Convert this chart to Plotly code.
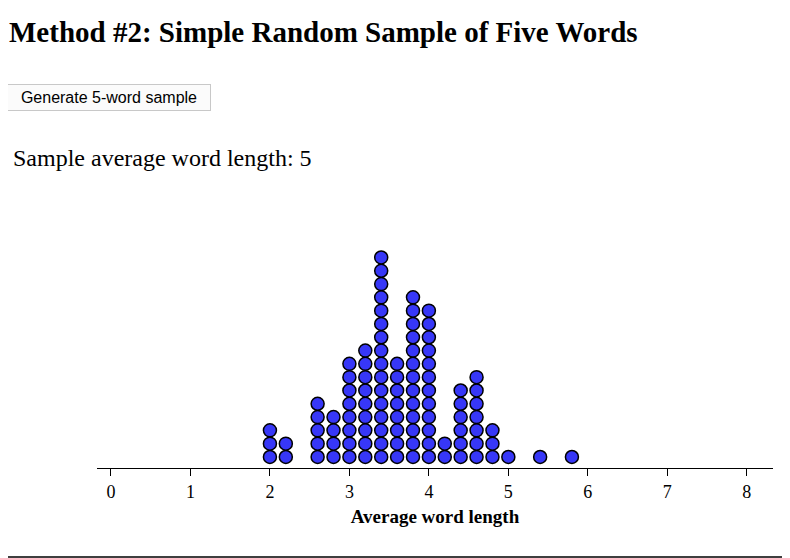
import plotly.graph_objects as go

values = [2.0, 2.2, 2.6, 2.8, 3.0, 3.2, 3.4, 3.6, 3.8, 4.0, 4.2, 4.4, 4.6, 4.8, 5.0, 5.4, 5.8]
counts = [3, 2, 5, 4, 8, 9, 16, 8, 13, 12, 2, 6, 7, 3, 1, 1, 1]
tick_vals = list(range(0, 9))

xs, ys = [], []
for v, c in zip(values, counts):
    for k in range(1, c + 1):
        xs.append(v)
        ys.append(k)

OFF = 8  # page body margin
W, H = 790 - OFF, 558 - OFF
L, R, T, B = 97 - OFF, 17, 230 - OFF, 90
pw, ph = W - L - R, H - T - B

def px(p):
    return (p - OFF - L) / pw

def py(p):
    return (H - B - (p - OFF)) / ph

fig = go.Figure(go.Scatter(
    x=xs, y=ys, mode="markers",
    marker=dict(size=13, color="#3737f7", line=dict(color="black", width=1.5)),
    hoverinfo="skip"))

serif = "Liberation Serif"
fig.update_layout(
    width=W, height=H, margin=dict(l=L, r=R, t=T, b=B),
    paper_bgcolor="white", plot_bgcolor="white", showlegend=False,
    xaxis=dict(range=[-0.176, 8.33], tickvals=tick_vals, showgrid=False, zeroline=False,
               showline=True, linecolor="black", linewidth=1.2, ticks="outside",
               ticklen=7, tickcolor="black", tickfont=dict(family=serif, size=18, color="black"),
               title=dict(text="<b>Average word length</b>", font=dict(family=serif, size=19, color="black"), standoff=8)),
    yaxis=dict(range=[0.17, 0.17 + ph / 13.3], visible=False),
    shapes=[dict(type="rect", xref="paper", yref="paper", x0=px(1), x1=px(789), y0=py(557), y1=py(1),
                 line=dict(color="black", width=1.5))],
    annotations=[
        dict(text="<b>Method #2: Simple Random Sample of Five Words</b>", xref="paper", yref="paper",
             x=px(7), y=py(32), xanchor="left", yanchor="middle", showarrow=False,
             font=dict(family=serif, size=29, color="black")),
        dict(text="  Generate 5-word sample  ", xref="paper", yref="paper",
             x=px(7), y=py(97), xanchor="left", yanchor="middle", showarrow=False,
             font=dict(family="Liberation Sans", size=16, color="black"),
             bgcolor="#fbfbfb", bordercolor="#c8c8c8", borderwidth=1, borderpad=4),
        dict(text="Sample average word length: 5", xref="paper", yref="paper",
             x=px(11), y=py(158), xanchor="left", yanchor="middle", showarrow=False,
             font=dict(family=serif, size=24, color="black")),
    ],
)
fig.write_html("out.html")
